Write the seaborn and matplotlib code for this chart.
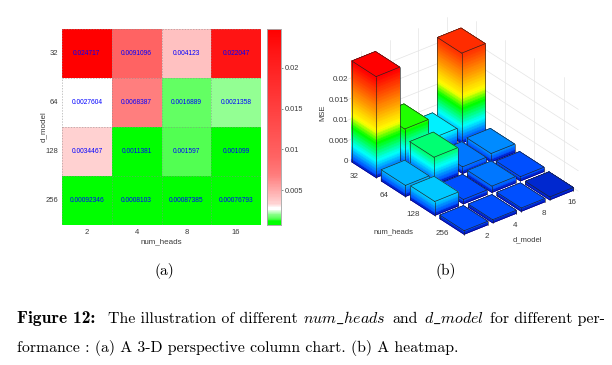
import numpy as np
import pandas as pd
import seaborn as sns
import matplotlib
matplotlib.use("Agg")
import matplotlib.pyplot as plt
from matplotlib.colors import LinearSegmentedColormap
from mpl_toolkits.mplot3d import proj3d

num_heads = [2, 4, 8, 16]
d_model = [32, 64, 128, 256]
row_32 = [0.024717, 0.0091096, 0.004123, 0.022047]
row_64 = [0.0027604, 0.0068387, 0.0016889, 0.0021358]
row_128 = [0.0034467, 0.0011381, 0.001597, 0.001099]
row_256 = [0.00092346, 0.0008103, 0.00087385, 0.00076793]
z_ticks = [0, 0.005, 0.01, 0.015, 0.02]

W, H = 612, 365
sns.set_theme(style="white")
plt.rcParams["font.family"] = ["Liberation Sans", "DejaVu Sans"]
plt.rcParams["mathtext.fontset"] = "cm"
GREY = "#3a3a3a"


def box(x0, y0, x1, y1):
    # pixel box (top-left origin) to figure fractions
    return [x0 / W, 1 - y1 / H, (x1 - x0) / W, (y1 - y0) / H]


df = pd.DataFrame([row_32, row_64, row_128, row_256], index=d_model, columns=num_heads)
vals = df.values
vmin, vmax = vals.min(), vals.max()


def frac(v):
    return (v - vmin) / (vmax - vmin)


heat_nodes = [
    (0.0, (0, 1, 0)),
    (frac(0.00115), (0, 1, 0)),
    (frac(0.0016), (0.39, 1, 0.39)),
    (frac(0.0017), (0.39, 1, 0.39)),
    (frac(0.00213), (0.6, 1, 0.6)),
    (frac(0.0026), (1, 1, 1)),
    (frac(0.0029), (1, 1, 1)),
    (frac(0.0033), (1, 0.82, 0.82)),
    (frac(0.0035), (1, 0.82, 0.82)),
    (frac(0.00412), (1, 0.75, 0.75)),
    (frac(0.00684), (1, 0.49, 0.49)),
    (frac(0.00911), (1, 0.39, 0.39)),
    (frac(0.02205), (1, 0.08, 0.08)),
    (1.0, (1, 0, 0)),
]
heat_cmap = LinearSegmentedColormap.from_list("gwr", heat_nodes, N=256)

jet_like = LinearSegmentedColormap.from_list("barjet", [
    (0.0, (0, 0, 0.6)),
    (0.03, (0, 0.3, 1)),
    (0.17, (0, 1, 1)),
    (0.35, (0, 1, 0)),
    (0.47, (1, 1, 0)),
    (0.75, (1, 0.45, 0)),
    (1.0, (1, 0, 0)),
], N=64)

fig = plt.figure(figsize=(W / 100, H / 100), dpi=100)

# (a) heatmap
ax = fig.add_axes(box(62, 29, 261, 225))
cax = fig.add_axes(box(267, 29, 281, 225))
sns.heatmap(df, ax=ax, cbar_ax=cax, cmap=heat_cmap, vmin=vmin, vmax=vmax,
            annot=df.map(str).values, fmt="",
            annot_kws={"color": "#0000ff", "fontsize": 4.8})
ax.tick_params(length=0, labelsize=5.5, labelcolor=GREY, pad=3)
ax.set_yticklabels(d_model, rotation=0)
ax.set_xlabel("num_heads", fontsize=5.8, color=GREY, labelpad=1.5)
ax.set_ylabel("d_model", fontsize=5.8, color=GREY, labelpad=-1.3)
for i in range(5):
    ax.axhline(i, color="#8a8a8a", lw=0.5, ls=(0, (2, 2)), alpha=0.7)
    ax.axvline(i, color="#8a8a8a", lw=0.5, ls=(0, (2, 2)), alpha=0.7)
cax.set_yticks(z_ticks[1:], ["0.005", "0.01", "0.015", "0.02"])
cax.tick_params(length=1.5, width=0.4, color=GREY, labelsize=5.3, labelcolor=GREY, pad=1)
for s in cax.spines.values():
    s.set_visible(True)
    s.set_color("#aaaaaa")
    s.set_linewidth(0.5)

# (b) 3D columns, the same values as the heatmap
ax3 = fig.add_axes(box(308.5, -31, 608.5, 269), projection="3d", computed_zorder=False)
ax3.set_proj_type("ortho")
ax3.view_init(elev=30.6, azim=-128.3)
ax3.set_axis_off()
ax3.set_xlim(0, 4)
ax3.set_ylim(0, 4)
ax3.set_zlim(0, 0.03)
ax3.set_xticks([])
ax3.set_yticks([])
ax3.set_zticks([])
ax3.set_box_aspect((106, 138, 104), zoom=0.9)


def label3d(x, y, z, s, **kw):
    # flat text at a projected 3D spot
    px, py, _ = proj3d.proj_transform(x, y, z, ax3.get_proj())
    ax3.text2D(px, py, s, transform=ax3.transData, fontsize=5.8, color=GREY, va="center", **kw)


n = len(d_model)
gcol = "#e4e4e4"
top_z = 0.0255
for k in range(4):
    ax3.plot([k + 0.5, k + 0.5], [4, 4], [0, top_z], color=gcol, lw=0.5, zorder=1)
    ax3.plot([4, 4], [k + 0.5, k + 0.5], [0, top_z], color=gcol, lw=0.5, zorder=1)
for z in z_ticks:
    ax3.plot([0, 4], [4, 4], [z, z], color=gcol, lw=0.5, zorder=1)
    ax3.plot([4, 4], [0, 4], [z, z], color=gcol, lw=0.5, zorder=1)
    label3d(0.03, 3.97, z, f"{z:g}", ha="right")

w = 0.83
zo = 2
# back columns first
for r in range(n):
    for c in range(n - 1, -1, -1):
        h = vals[r, c]
        x0 = c + (1 - w) / 2
        y0 = (n - 1 - r) + (1 - w) / 2
        edges = np.arange(0, h, 0.00025)
        for e0 in edges:
            e1 = min(e0 + 0.00025, h)
            col = jet_like((e1 / vmax))
            ax3.bar3d(x0, y0, e0, w, w, e1 - e0, color=col, shade=False,
                      edgecolor=col, linewidth=0.2, zorder=zo)
            zo += 1
        top = jet_like(h / vmax)
        ax3.bar3d(x0, y0, h, w, w, 0, color=top, shade=False,
                  edgecolor=top, linewidth=0.2, zorder=zo)
        zo += 1
        line = dict(color="#222222", lw=0.45, zorder=zo)
        x1, y1 = x0 + w, y0 + w
        ax3.plot([x0, x1, x1, x0, x0], [y0, y0, y1, y1, y0], [h] * 5, **line)
        ax3.plot([x1, x1], [y0, y0], [0, h], **line)
        ax3.plot([x0, x0], [y0, y0], [0, h], **line)
        ax3.plot([x0, x0], [y1, y1], [0, h], **line)
        zo += 1

for r, lab in enumerate(d_model):
    label3d(-0.35, n - 0.6 - r, 0, str(lab), ha="center")
for c, lab in enumerate(num_heads):
    label3d(c + 0.5, -0.27, 0, str(lab), ha="center")
fig.text(394 / W, 1 - 232 / H, "num_heads", fontsize=5.5, color=GREY, ha="center", va="center")
fig.text(527 / W, 1 - 240 / H, "d_model", fontsize=5.5, color=GREY, ha="center", va="center")
fig.text(323 / W, 1 - 113 / H, "MSE", fontsize=5.5, color=GREY, rotation=90, ha="center", va="center")

# sub-captions and figure caption
serif = dict(family="cmr10", color="black")
FS = 11.4
fig.text(164 / W, 1 - 271 / H, "(a)", fontsize=11, ha="center", va="center", **serif)
fig.text(446 / W, 1 - 271 / H, "(b)", fontsize=11, ha="center", va="center", **serif)
fig.text(17 / W, 1 - 323 / H, "Figure 12:", fontsize=12.6, family="cmb10", color="black", va="baseline")
fig.text(108 / W, 1 - 323 / H, "The illustration of different", fontsize=FS, va="baseline", **serif)
fig.text(303 / W, 1 - 323 / H, r"$num\_heads$", fontsize=FS, color="black", va="baseline")
fig.text(392 / W, 1 - 323 / H, "and", fontsize=FS, va="baseline", **serif)
fig.text(424 / W, 1 - 323 / H, r"$d\_model$", fontsize=FS, color="black", va="baseline")
fig.text(490 / W, 1 - 323 / H, "for different per-", fontsize=FS, va="baseline", **serif)
fig.text(17 / W, 1 - 352 / H, "formance : (a) A 3-D perspective column chart. (b) A heatmap.", fontsize=FS, va="baseline", **serif)

fig.savefig("out.png", dpi=100)
